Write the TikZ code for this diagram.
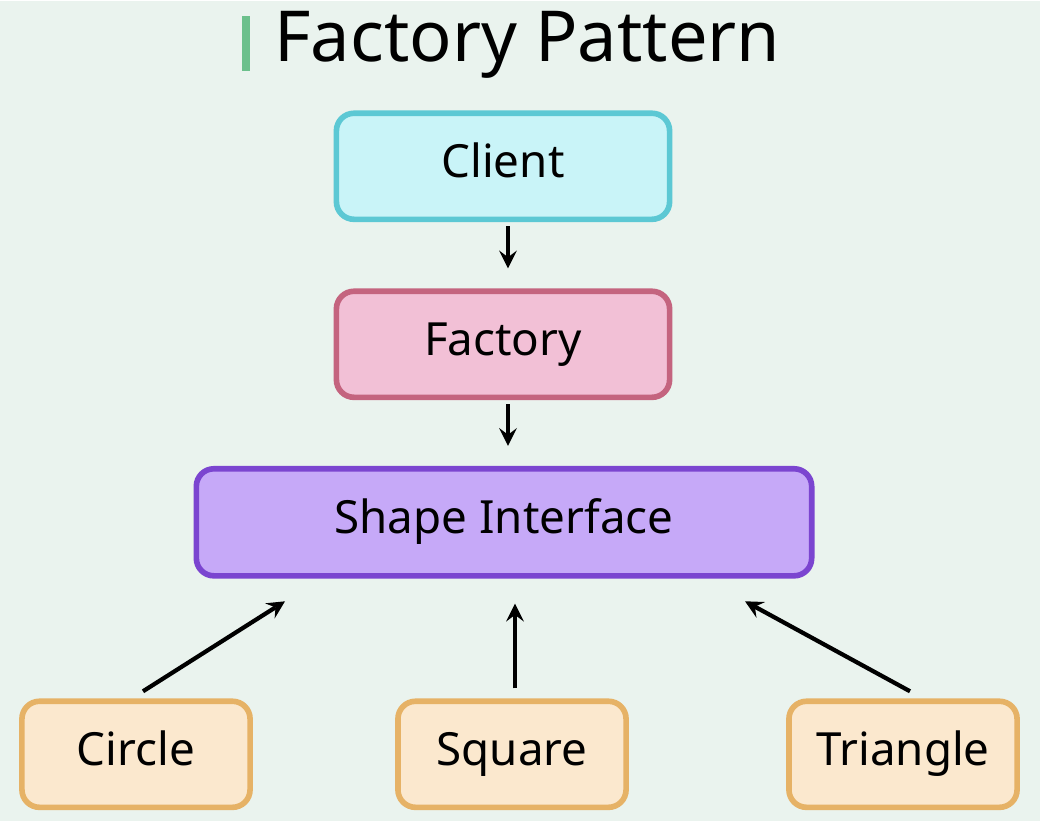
\documentclass[tikz,border=0pt]{standalone}
\usepackage{fontspec}
\setmainfont{Noto Sans}
\usetikzlibrary{positioning}
\definecolor{bgmint}{HTML}{EAF3EE}
\definecolor{clientfill}{HTML}{C9F4F8}
\definecolor{clientdraw}{HTML}{5CC8D4}
\definecolor{factfill}{HTML}{F2C0D6}
\definecolor{factdraw}{HTML}{C4647F}
\definecolor{ifacefill}{HTML}{C6A9F8}
\definecolor{ifacedraw}{HTML}{7B45D0}
\definecolor{shapefill}{HTML}{FBE8CE}
\definecolor{shapedraw}{HTML}{E6B266}
\definecolor{titlebar}{HTML}{6CC08C}
\begin{document}
\begin{tikzpicture}[x=0.01cm,y=-0.01cm]
\tikzstyle{box} = [rounded corners=5pt,line width=1.6pt,inner sep=0,text height=1.5ex,text depth=.35ex,font=\fontsize{13}{15}\selectfont];
\tikzstyle{client} = [box,fill=clientfill,draw=clientdraw,minimum width=3.33cm,minimum height=1.06cm];
\tikzstyle{factory} = [box,fill=factfill,draw=factdraw,minimum width=3.33cm,minimum height=1.06cm];
\tikzstyle{iface} = [box,fill=ifacefill,draw=ifacedraw,minimum width=6.15cm,minimum height=1.07cm];
\tikzstyle{product} = [box,fill=shapefill,draw=shapedraw,minimum width=2.28cm,minimum height=1.06cm];
\tikzstyle{arr} = [line width=1.2pt,->,>=stealth];
\fill[bgmint] (0,0) rectangle (1040,820);
\fill[titlebar] (242,15) rectangle (250,70);
\node [font=\fontsize{20}{24}\selectfont,anchor=west] (title) at (262,44) {Factory Pattern};
\node [client] (client) at (503,165) {Client};
\node [factory] (factory) at (503,343) {Factory};
\node [iface] (iface) at (504,521) {Shape Interface};
\node [product] (circle) at (136,753) {Circle};
\node [product] (square) at (512,753) {Square};
\node [product] (triangle) at (903,753) {Triangle};
\coordinate (c1) at (143,690);
\coordinate (c2) at (285,600);
\coordinate (t1) at (910,690);
\coordinate (t2) at (745,600);
\draw [arr,shorten <=0.04cm,shorten >=0.2cm] (client.south -| 508,0) -- (factory.north -| 508,0);
\draw [arr,shorten <=0.04cm,shorten >=0.2cm] (factory.south -| 508,0) -- (iface.north -| 508,0);
\draw [arr] (c1) -- (c2);
\draw [arr,shorten <=0.1cm,shorten >=0.25cm] (square.north -| 515,0) -- (iface.south -| 515,0);
\draw [arr] (t1) -- (t2);
\end{tikzpicture}
\end{document}
